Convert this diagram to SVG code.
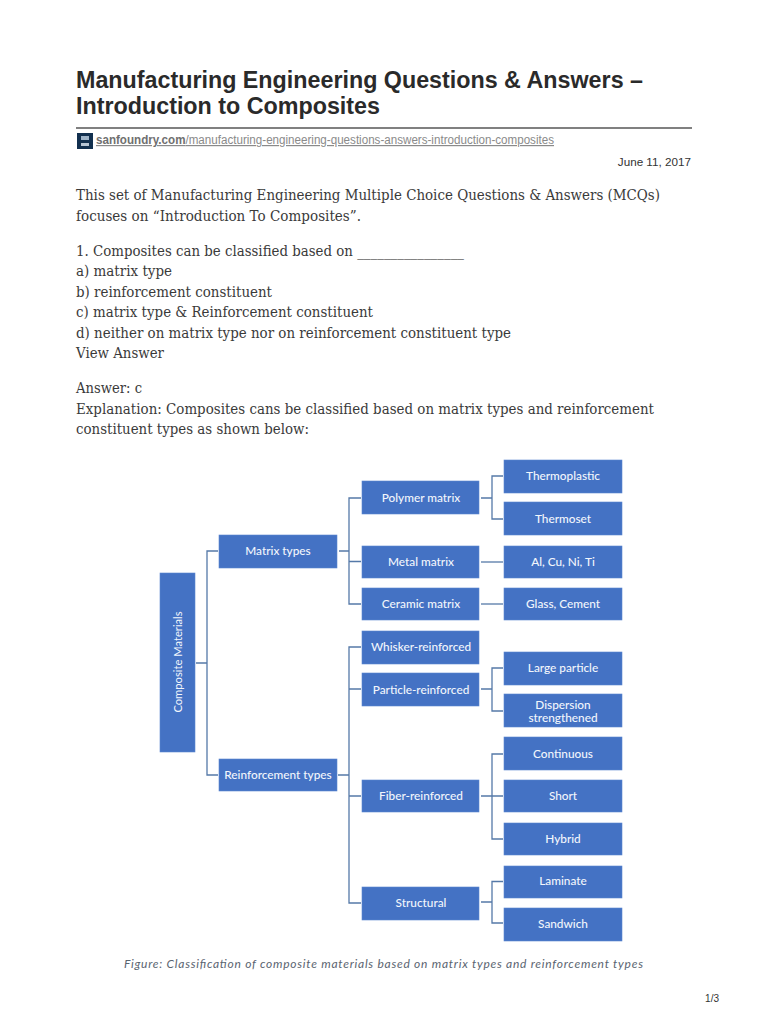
<svg xmlns="http://www.w3.org/2000/svg" width="768" height="1024" viewBox="0 0 768 1024">
<style>
.t{font-family:"Liberation Sans",Arial,sans-serif;font-weight:700;font-size:23px;fill:#2a2a2a}
.b{font-family:"DejaVu Serif",serif;font-size:14px;fill:#3a3a3a}
.n rect{fill:#4472c4;stroke:#5b86d0;stroke-width:.6}
.n text{font-family:Lato,"Open Sans",sans-serif;font-size:11.800px;font-weight:500;fill:#f2f6fc;text-anchor:middle;dominant-baseline:central}
#connectors path{fill:none;stroke:#5579a8;stroke-width:1.3}
</style>
<rect width="768" height="1024" fill="#fff"/>
<text class="t" x="76" y="88" textLength="567" lengthAdjust="spacingAndGlyphs">Manufacturing Engineering Questions &amp; Answers –</text>
<text class="t" x="76" y="114" textLength="304" lengthAdjust="spacingAndGlyphs">Introduction to Composites</text>
<rect x="76" y="127" width="616" height="2" fill="#808080"/>
<rect x="77" y="133" width="16" height="16" fill="#12304f"/>
<rect x="81" y="136" width="8" height="4" fill="#9fb4c8"/>
<rect x="81" y="143" width="8" height="3" fill="#b8c6d4"/>
<text x="96" y="144" font-family="Liberation Sans,Arial,sans-serif" font-size="12" fill="#8a8a8a" text-decoration="underline" textLength="458" lengthAdjust="spacingAndGlyphs"><tspan font-weight="700" fill="#6f6f6f">sanfoundry.com</tspan>/manufacturing-engineering-questions-answers-introduction-composites</text>
<text x="691" y="166" text-anchor="end" font-family="Liberation Sans,Arial,sans-serif" font-size="11.700" fill="#333">June 11, 2017</text>
<text class="b" x="76" y="200" textLength="584" lengthAdjust="spacingAndGlyphs">This set of Manufacturing Engineering Multiple Choice Questions &amp; Answers (MCQs)</text>
<text class="b" x="76" y="221" textLength="285" lengthAdjust="spacingAndGlyphs">focuses on “Introduction To Composites”.</text>
<text class="b" x="76" y="256" textLength="388" lengthAdjust="spacingAndGlyphs">1. Composites can be classified based on ________________</text>
<text class="b" x="76" y="276" textLength="96" lengthAdjust="spacingAndGlyphs">a) matrix type</text>
<text class="b" x="76" y="297" textLength="196" lengthAdjust="spacingAndGlyphs">b) reinforcement constituent</text>
<text class="b" x="76" y="317" textLength="297" lengthAdjust="spacingAndGlyphs">c) matrix type &amp; Reinforcement constituent</text>
<text class="b" x="76" y="338" textLength="435" lengthAdjust="spacingAndGlyphs">d) neither on matrix type nor on reinforcement constituent type</text>
<text class="b" x="76" y="358" textLength="88" lengthAdjust="spacingAndGlyphs">View Answer</text>
<text class="b" x="76" y="393" textLength="66" lengthAdjust="spacingAndGlyphs">Answer: c</text>
<text class="b" x="76" y="414" textLength="578" lengthAdjust="spacingAndGlyphs">Explanation: Composites cans be classified based on matrix types and reinforcement</text>
<text class="b" x="76" y="434" textLength="233" lengthAdjust="spacingAndGlyphs">constituent types as shown below:</text>
<g id="connectors">
<path d="M196 663H207M218 551H207V775H218"/>
<path d="M339 551H349M361 498H349V604H361M349 561.500H361"/>
<path d="M338 775H349M361 647H349V903H361M349 689H361M349 796H361"/>
<path d="M481 498H492M503 476H492V519H503"/>
<path d="M481 562H503"/>
<path d="M481 604H503"/>
<path d="M481 689H492M503 668H492V711H503"/>
<path d="M481 796H503M503 754H492V839H503"/>
<path d="M481 902H492M503 881.500H492V923H503"/>
</g>
<g id="composite" class="n"><rect x="160" y="573" width="35" height="179"/><text transform="translate(177 662) rotate(-90)" style="font-size:11.200px;font-weight:400">Composite Materials</text></g>
<g id="matrix" class="n"><rect x="219" y="535" width="118" height="33"/><text x="278" y="550">Matrix types</text></g>
<g id="reinforcement" class="n"><rect x="219" y="759" width="118" height="32"/><text x="278" y="774">Reinforcement types</text></g>
<g id="polymer" class="n"><rect x="362" y="481" width="117" height="33"/><text x="421" y="497">Polymer matrix</text></g>
<g id="metal" class="n"><rect x="362" y="546" width="117" height="32"/><text x="421" y="561">Metal matrix</text></g>
<g id="ceramic" class="n"><rect x="362" y="588" width="117" height="32"/><text x="421" y="603">Ceramic matrix</text></g>
<g id="whisker" class="n"><rect x="362" y="631" width="117" height="33"/><text x="421" y="646">Whisker-reinforced</text></g>
<g id="particle" class="n"><rect x="362" y="673" width="117" height="33"/><text x="421" y="689">Particle-reinforced</text></g>
<g id="fiber" class="n"><rect x="362" y="780" width="117" height="32"/><text x="421" y="795">Fiber-reinforced</text></g>
<g id="structural" class="n"><rect x="362" y="887" width="117" height="33"/><text x="421" y="902">Structural</text></g>
<g id="thermoplastic" class="n"><rect x="504" y="460" width="118" height="33"/><text x="563" y="475.500">Thermoplastic</text></g>
<g id="thermoset" class="n"><rect x="504" y="502" width="118" height="33"/><text x="563" y="518">Thermoset</text></g>
<g id="alcu" class="n"><rect x="504" y="546" width="118" height="32"/><text x="563" y="561">Al, Cu, Ni, Ti</text></g>
<g id="glass" class="n"><rect x="504" y="588" width="118" height="32"/><text x="563" y="603">Glass, Cement</text></g>
<g id="large" class="n"><rect x="504" y="652" width="118" height="33"/><text x="563" y="667">Large particle</text></g>
<g id="dispersion" class="n"><rect x="504" y="694" width="118" height="33"/><text x="563" y="704">Dispersion</text><text x="563" y="717">strengthened</text></g>
<g id="continuous" class="n"><rect x="504" y="737" width="118" height="33"/><text x="563" y="753">Continuous</text></g>
<g id="short" class="n"><rect x="504" y="780" width="118" height="32"/><text x="563" y="795">Short</text></g>
<g id="hybrid" class="n"><rect x="504" y="823" width="118" height="32"/><text x="563" y="838">Hybrid</text></g>
<g id="laminate" class="n"><rect x="504" y="866" width="118" height="32"/><text x="563" y="880.500">Laminate</text></g>
<g id="sandwich" class="n"><rect x="504" y="908" width="118" height="33"/><text x="563" y="923">Sandwich</text></g>
<text x="124" y="968" font-family="Lato,Open Sans,sans-serif" font-style="italic" font-size="12" fill="#5a6470" textLength="519" lengthAdjust="spacing">Figure: Classification of composite materials based on matrix types and reinforcement types</text>
<text x="719" y="1002" text-anchor="end" font-family="Liberation Sans,Arial,sans-serif" font-size="10" fill="#333">1/3</text>
</svg>
